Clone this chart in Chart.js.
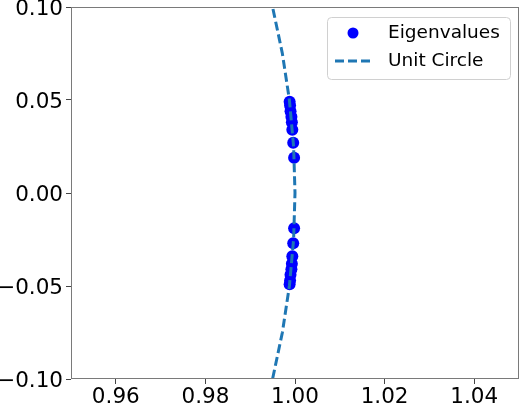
<!DOCTYPE html>
<html>
<head>
<meta charset="utf-8">
<script src="https://cdn.jsdelivr.net/npm/chart.js@4/dist/chart.umd.min.js"></script>
<style>
  html, body { margin: 0; padding: 0; background: #fff; }
  #myChart { display: block; }
</style>
</head>
<body>
<canvas id="myChart" width="520" height="403"></canvas>
<script>
// eigenvalues (real, imaginary parts), conjugate pairs
var eigRe = [0.9988, 0.9989, 0.9990, 0.9992, 0.9993, 0.9994, 0.9996, 0.9998,
             0.9998, 0.9996, 0.9994, 0.9993, 0.9992, 0.9990, 0.9989, 0.9988];
var eigIm = [0.049, 0.047, 0.044, 0.041, 0.038, 0.034, 0.027, 0.019,
             -0.019, -0.027, -0.034, -0.038, -0.041, -0.044, -0.047, -0.049];

// part of the unit circle that is in view
var circleRe = [0.99277, 0.99499, 0.99718, 0.99875, 0.99969, 1.0, 0.99969, 0.99875, 0.99718, 0.99499, 0.99277];
var circleIm = [-0.12, -0.10, -0.075, -0.05, -0.025, 0.0, 0.025, 0.05, 0.075, 0.10, 0.12];

var xTicks = [0.96, 0.98, 1.00, 1.02, 1.04];
var yTicks = [-0.10, -0.05, 0.00, 0.05, 0.10];

var font = 'DejaVu Sans';

function pts(xs, ys) {
  return xs.map(function (x, i) { return { x: x, y: ys[i] }; });
}
function fmt(v) {
  return v.toFixed(2).replace('-', '\u2212');
}

// plot area runs almost to the right edge, like the matplotlib figure
var fixArea = {
  id: 'fixArea',
  afterLayout: function (chart) {
    var a = chart.chartArea, sx = chart.scales.x;
    a.right = chart.width - 1;
    a.width = a.right - a.left;
    sx.right = a.right;
    sx.width = a.width;
    sx.configure();
  }
};

// frame around the plot (all four sides)
var frame = {
  id: 'frame',
  afterDatasetsDraw: function (chart) {
    var a = chart.chartArea, c = chart.ctx;
    c.save();
    c.strokeStyle = '#7a7a7a';
    c.lineWidth = 1;
    c.strokeRect(a.left + 0.5, a.top + 0.5, a.right - a.left - 1, a.bottom - a.top - 1);
    c.restore();
  }
};

// matplotlib-like legend in the upper right
var boxLegend = {
  id: 'boxLegend',
  afterDraw: function (chart) {
    var c = chart.ctx;
    var ds = chart.data.datasets;
    c.save();
    c.fillStyle = 'rgba(255,255,255,0.8)';
    c.strokeStyle = '#d0d0d0';
    c.lineWidth = 1;
    c.beginPath();
    c.roundRect(327.5, 17.5, 183, 62, 4);
    c.fill();
    c.stroke();

    // Eigenvalues marker
    c.fillStyle = ds[1].backgroundColor;
    c.beginPath();
    c.arc(353, 33, 5.5, 0, Math.PI * 2);
    c.fill();

    // Unit circle line
    c.strokeStyle = ds[0].borderColor;
    c.lineWidth = 3;
    c.setLineDash([9, 4]);
    c.beginPath();
    c.moveTo(335, 61);
    c.lineTo(373, 61);
    c.stroke();
    c.setLineDash([]);

    c.fillStyle = '#000';
    c.font = '18.5px "' + font + '"';
    c.textBaseline = 'middle';
    c.textAlign = 'left';
    c.fillText(ds[1].label, 388, 33);
    c.fillText(ds[0].label, 388, 61);
    c.restore();
  }
};

var ctx = document.getElementById('myChart');
var myChart = new Chart(ctx, {
  type: 'scatter',
  data: {
    datasets: [{
      label: 'Unit Circle',
      data: pts(circleRe, circleIm),
      showLine: true,
      borderColor: '#1f77b4',
      borderWidth: 3,
      borderDash: [9, 4],
      pointRadius: 0,
      fill: false,
      order: 0
    }, {
      label: 'Eigenvalues',
      data: pts(eigRe, eigIm),
      backgroundColor: '#0000ff',
      borderColor: '#0000ff',
      borderWidth: 0,
      pointRadius: 6,
      order: 1
    }]
  },
  options: {
    responsive: false,
    animation: false,
    layout: { padding: { top: 7, right: 1, left: 0, bottom: 0 } },
    plugins: {
      legend: { display: false },
      tooltip: { enabled: false }
    },
    scales: {
      x: {
        type: 'linear',
        min: 0.95,
        max: 1.05,
        afterBuildTicks: function (s) { s.ticks = xTicks.map(function (v) { return { value: v }; }); },
        afterFit: function (s) { s.height = 24; },
        border: { display: false },
        grid: { display: true, drawOnChartArea: false, drawTicks: true, tickLength: 5, color: '#444' },
        ticks: {
          color: '#000',
          padding: 3,
          maxRotation: 0,
          autoSkip: false,
          font: { family: font, size: 21.5, lineHeight: 1 },
          callback: function (v) { return fmt(v); }
        }
      },
      y: {
        type: 'linear',
        min: -0.10,
        max: 0.10,
        afterBuildTicks: function (s) { s.ticks = yTicks.map(function (v) { return { value: v }; }); },
        afterFit: function (s) { s.width = 71; s.paddingTop = 0; s.paddingBottom = 0; },
        border: { display: false },
        grid: { display: true, drawOnChartArea: false, drawTicks: true, tickLength: 5, color: '#444' },
        ticks: {
          color: '#000',
          padding: 3,
          labelOffset: 2,
          autoSkip: false,
          font: { family: font, size: 21.5 },
          callback: function (v) { return fmt(v); }
        }
      }
    }
  },
  plugins: [fixArea, frame, boxLegend]
});
</script>
</body>
</html>
